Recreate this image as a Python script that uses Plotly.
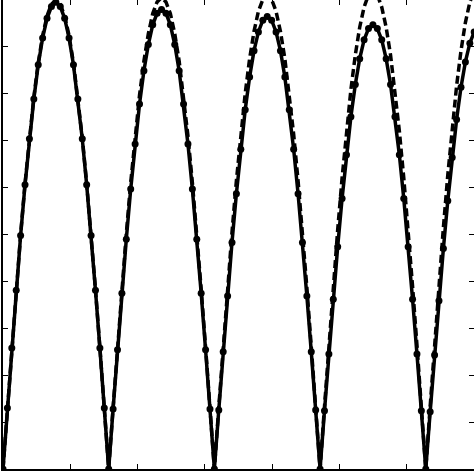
import math
import plotly.graph_objects as go

# sample positions: step of pi/48 (k = 0..107)
x_vals = [k * math.pi / 48 for k in range(108)]

dashed_vals = [
    0, 1.31, 2.59, 3.83, 5.00, 6.09, 7.07, 7.93, 8.66, 9.24, 9.66, 9.91, 10.00, 9.91, 9.66, 9.24, 8.66, 7.93, 7.07, 6.09, 5.00, 3.83, 2.59, 1.31,
    0, 1.31, 2.60, 3.84, 5.02, 6.11, 7.10, 7.97, 8.70, 9.28, 9.71, 9.96, 10.05, 9.96, 9.71, 9.28, 8.70, 7.97, 7.10, 6.11, 5.02, 3.84, 2.60, 1.31,
    0, 1.32, 2.61, 3.87, 5.05, 6.15, 7.14, 8.01, 8.75, 9.33, 9.76, 10.01, 10.10, 10.01, 9.76, 9.33, 8.75, 8.01, 7.14, 6.15, 5.05, 3.87, 2.61, 1.32,
    0, 1.33, 2.64, 3.90, 5.10, 6.21, 7.21, 8.09, 8.83, 9.42, 9.85, 10.11, 10.20, 10.11, 9.85, 9.42, 8.83, 8.09, 7.21, 6.21, 5.10, 3.90, 2.64, 1.33,
    0, 1.34, 2.67, 3.94, 5.15, 6.27, 7.28, 8.17, 8.92, 9.52, 9.95, 10.21,
]

solid_vals = [
    0, 1.30, 2.58, 3.81, 4.98, 6.06, 7.04, 7.89, 8.62, 9.19, 9.61, 9.86, 9.95, 9.86, 9.61, 9.19, 8.62, 7.89, 7.04, 6.06, 4.98, 3.81, 2.58, 1.30,
    0, 1.28, 2.54, 3.75, 4.90, 5.97, 6.93, 7.78, 8.49, 9.05, 9.47, 9.72, 9.80, 9.72, 9.47, 9.05, 8.49, 7.78, 6.93, 5.97, 4.90, 3.75, 2.54, 1.28,
    0, 1.26, 2.50, 3.69, 4.83, 5.87, 6.82, 7.66, 8.36, 8.92, 9.32, 9.57, 9.65, 9.57, 9.32, 8.92, 8.36, 7.66, 6.82, 5.87, 4.83, 3.69, 2.50, 1.26,
    0, 1.24, 2.45, 3.62, 4.74, 5.77, 6.70, 7.51, 8.20, 8.75, 9.15, 9.39, 9.47, 9.39, 9.15, 8.75, 8.20, 7.51, 6.70, 5.77, 4.74, 3.62, 2.45, 1.24,
    0, 1.22, 2.43, 3.59, 4.70, 5.72, 6.64, 7.45, 8.14, 8.68, 9.08, 9.32,
]

x_ticks = [0, 1, 2, 3, 4, 5, 6, 7]
y_ticks = [0, 1, 2, 3, 4, 5, 6, 7, 8, 9, 10]

fig = go.Figure()
fig.add_trace(go.Scatter(
    x=x_vals, y=dashed_vals, mode="lines",
    line=dict(color="black", width=3.5, dash="8px,4px"),
    showlegend=False, cliponaxis=True,
))
fig.add_trace(go.Scatter(
    x=x_vals, y=solid_vals, mode="lines+markers",
    line=dict(color="black", width=3.5),
    marker=dict(color="black", size=7),
    showlegend=False, cliponaxis=True,
))
# invisible trace for mirrored tick axes
fig.add_trace(go.Scatter(x=[0], y=[0], xaxis="x2", yaxis="y2", mode="markers",
                         marker=dict(opacity=0), showlegend=False, hoverinfo="skip"))

axis_common = dict(showgrid=False, zeroline=False, showticklabels=False,
                   ticks="inside", ticklen=5, tickwidth=1.2, tickcolor="black")

fig.update_layout(
    width=474, height=474,
    margin=dict(l=3, r=0, t=0, b=5),
    paper_bgcolor="white", plot_bgcolor="white",
    xaxis=dict(range=[0, 7], tickvals=x_ticks, showline=True, linecolor="black",
               linewidth=2, **axis_common),
    yaxis=dict(range=[0, 10], tickvals=y_ticks, showline=True, linecolor="black",
               linewidth=2, **axis_common),
    xaxis2=dict(range=[0, 7], tickvals=x_ticks, overlaying="x", side="top",
                showline=False, **axis_common),
    yaxis2=dict(range=[0, 10], tickvals=y_ticks, overlaying="y", side="right",
                showline=False, **axis_common),
)

fig.write_html(
    "out.html",
    config={"displayModeBar": False},
    post_script=["document.body.style.margin='0px'; document.body.style.overflow='hidden';"],
)
